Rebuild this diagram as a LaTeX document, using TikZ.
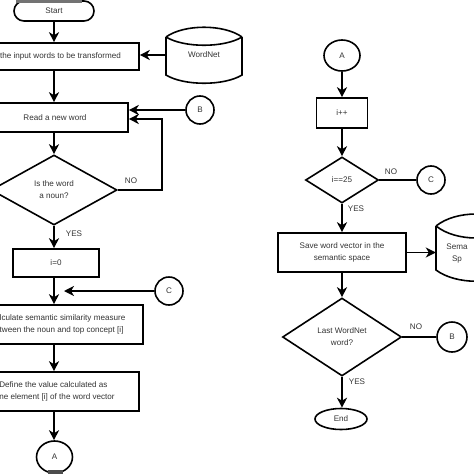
\documentclass[tikz,border=0pt]{standalone}
\usepackage{fontspec}
\setmainfont{Liberation Sans}
\usepackage{tikz}
\usetikzlibrary{shapes.geometric,arrows.meta}

\begin{document}
\begin{tikzpicture}[
  x=1pt, y=-1pt,
  every node/.style={font=\fontsize{8.1}{12}\selectfont, text=black!80},
  line/.style={draw, line width=1.6pt},
  arrow/.style={line, -{Stealth[length=10pt,width=10pt,inset=3pt]}},
  box/.style={draw, line width=1.6pt, rectangle, align=center, inner sep=0pt},
  terminal/.style={draw, line width=1.6pt, rounded corners=10pt, minimum width=80pt, minimum height=20pt},
  stopnode/.style={draw, line width=1.6pt, ellipse, inner sep=0pt, minimum width=52pt, minimum height=21pt},
  decision/.style={draw, line width=1.6pt, diamond, inner sep=0pt, align=center},
  connector/.style={draw, line width=1.6pt, circle, inner sep=0pt, minimum size=28pt},
  pageconn/.style={draw, line width=1.6pt, ellipse, inner sep=0pt, minimum width=36pt, minimum height=31pt},
  store/.style={inner sep=0pt, align=center, minimum height=56pt},
  lab/.style={inner sep=1pt}
  ]
\useasboundingbox (0,0) rectangle (474,474);
\clip (0,0) rectangle (474,474);

% left column
\node[terminal] (start) at (54,11) {Start};
\node[box, minimum width=157pt, minimum height=27pt] (input) at (60.5,56.5) {the input words to be transformed};
\node[store, minimum width=76pt] (wordnet) at (204,55) {WordNet};
\node[box, minimum width=146pt, minimum height=29pt] (read) at (55,117.5) {Read a new word};
\node[connector] (bleft) at (200,110) {B};
\node[decision, minimum width=126pt, minimum height=70pt] (noun) at (54,190) {Is the word\\a noun?};
\coordinate (loop) at (162,119);
\node[lab] (nonoun) at (131,181) {NO};
\node[lab] (yesnoun) at (74,234) {YES};
\node[box, minimum width=86pt, minimum height=28pt] (izero) at (56,263) {i=0};
\node[connector] (cleft) at (169,291) {C};
\node[box, align=left, minimum width=161pt, minimum height=39pt] (calc) at (62.5,324.5) {lculate semantic similarity measure\\tween the noun and top concept [i]};
\node[box, align=left, minimum width=164pt, minimum height=39pt] (define) at (57,391.5) {Define the value calculated as\\ne element [i] of the word vector};
\node[pageconn, minimum height=32pt] (aleft) at (54.5,457) {A};

% right column
\node[pageconn] (aright) at (342,55.5) {A};
\node[box, minimum width=51pt, minimum height=30pt] (incr) at (342,113) {i++};
\node[decision, minimum width=73pt, minimum height=46pt] (iseq) at (342,180) {i==25};
\node[connector] (cright) at (431,180) {C};
\node[lab] (noiseq) at (391,172) {NO};
\node[lab] (yesiseq) at (356,209) {YES};
\node[box, minimum width=128pt, minimum height=39pt] (save) at (342,252.5) {Save word vector in the\\semantic space};
\node[store, minimum width=42pt] (semspace) at (457,254) {Sema\\Sp};
\node[decision, minimum width=119pt, minimum height=78pt] (last) at (342,337) {Last WordNet\\word?};
\node[connector, minimum size=30pt] (bright) at (452,337) {B};
\node[lab] (nolast) at (416,327) {NO};
\node[lab] (yeslast) at (357,382) {YES};
\node[stopnode] (end) at (341,419) {End};

% storage drums
\draw[line, shift={(wordnet.center)}] (-38,-18) .. controls (-20,-31) and (20,-31) .. (38,-18)
  (-38,-18) .. controls (-20,-7) and (20,-7) .. (38,-18)
  (-38,-18) -- (-38,20) .. controls (-20,31) and (20,31) .. (38,20) -- (38,-18);
\draw[line, shift={([shift={(19,-6)}]semspace.center)}] (-40,-22) .. controls (-20,-38) and (20,-38) .. (40,-22)
  (-40,-22) .. controls (-20,-6) and (20,-6) .. (40,-22)
  (-40,-22) -- (-40,22) .. controls (-20,37) and (20,37) .. (40,22) -- (40,-22);

% page edges
\fill[black!55] (16,0) rectangle (82,2.5);
\fill[black!70] (48,470) rectangle (63,474);

% left connectors
\draw[arrow] (start) -- (start |- input.north);
\draw[arrow] (wordnet.west) -- (wordnet.west -| input.east);
\draw[arrow] (start |- input.south) -- (start |- read.north);
\draw[arrow] (bleft.west) -- (bleft.west -| read.east);
\draw[arrow] (start |- read.south) -- (noun.north);
\draw[arrow] (noun.east) -- (noun.east -| loop) -- (loop) -- (loop -| read.east);
\draw[arrow] (noun.south) -- (noun.south |- izero.north);
\draw[arrow] (noun.south |- izero.south) -- (noun.south |- calc.north);
\draw[arrow, shorten >=10pt] (cleft.west) -- (cleft.west -| noun.south);
\draw[arrow] (noun.south |- calc.south) -- (noun.south |- define.north);
\draw[arrow] (noun.south |- define.south) -- (noun.south |- aleft.north);

% right connectors
\draw[arrow] (aright) -- (incr);
\draw[arrow] (incr) -- (iseq);
\draw[line] (iseq.east) -- (cright);
\draw[arrow] (iseq) -- (save);
\draw[arrow] (save.east) -- (save.east -| semspace.west);
\draw[arrow] (save) -- (last);
\draw[line] (last.east) -- (bright);
\draw[arrow] (last.south) -- (last.south |- end.north);

\end{tikzpicture}
\end{document}
